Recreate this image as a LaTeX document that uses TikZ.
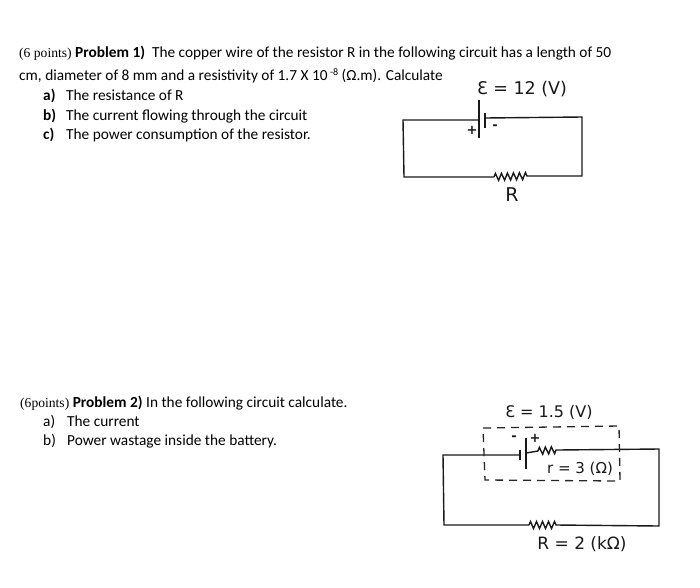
\documentclass[tikz,border=0pt]{standalone}
\usepackage{fontspec}
\setmainfont{Carlito}
\newfontfamily\serifpart{Liberation Serif}
\newfontfamily\handfont{DejaVu Sans}
\usetikzlibrary{decorations.pathmorphing}
\tikzset{
  txt/.style={anchor=base west,inner sep=0pt,font=\fontsize{15.35}{17}\selectfont,text=black},
  hand/.style={inner sep=0pt,font=\handfont\fontsize{16}{18}\selectfont,text=black!90},
  wire/.style={line width=1.4pt,black!90},
  plate/.style={line width=1.5pt,black!90},
  dashbox/.style={line width=1.3pt,black!85,dash pattern=on 8pt off 6pt},
  resist/.style={line width=1.4pt,black!90,decorate,decoration={zigzag,amplitude=3.5pt,segment length=6pt}}
}
\begin{document}
\begin{tikzpicture}[x=1pt,y=-1pt]
\useasboundingbox (0,0) rectangle (700,587);
% --- text problem 1
\node[txt] (p1a) at (19,57) {{\serifpart\fontsize{13.6}{15}\selectfont (6 points)} \textbf{Problem 1)}\ \ The copper wire of the resistor R in the following circuit has a length of 50};
\node[txt] (p1b) at (19,80) {cm, diameter of 8 mm and a resistivity of 1.7 X 10\,\raisebox{4.5pt}{\fontsize{10}{11}\selectfont -8} (Ω.m). Calculate};
\node[txt] (p1c) at (43,100) {\textbf{a)}};
\node[txt] (p1c2) at (66,100) {The resistance of R};
\node[txt] (p1d) at (43,120) {\textbf{b)}};
\node[txt] (p1d2) at (66,120) {The current flowing through the circuit};
\node[txt] (p1e) at (43,139) {\textbf{c)}};
\node[txt] (p1e2) at (66,139) {The power consumption of the resistor.};
% --- text problem 2
\node[txt] (p2a) at (20,407) {{\serifpart\fontsize{13.6}{15}\selectfont (6points)} \textbf{Problem 2)} In the following circuit calculate.};
\node[txt] (p2b) at (43,426) {a)};
\node[txt] (p2b2) at (67,426) {The current};
\node[txt] (p2c) at (43,445) {b)};
\node[txt] (p2c2) at (67,445) {Power wastage inside the battery.};
% --- circuit 1
\coordinate (tl) at (403,120);
\coordinate (bl) at (404,177);
\coordinate (tr) at (582,117);
\coordinate (br) at (582,176);
\coordinate (pa) at (479,120);
\coordinate (pat) at (479,100);
\coordinate (pab) at (479,138);
\coordinate (pb) at (485,118);
\coordinate (pbt) at (485,113);
\coordinate (pbb) at (485,128);
\coordinate (ra) at (494,177);
\coordinate (rb) at (527,176);
\draw[wire] (pa) -- (tl) -- (bl) -- (ra);
\draw[wire] (pb) -- (tr) -- (br) -- (rb);
\draw[plate] (pat) -- (pab);
\draw[plate] (pbt) -- (pbb);
\draw[resist] (ra) -- (rb);
\node[hand,font=\handfont\fontsize{17.5}{20}\selectfont] (e1) at (522,89) {Ɛ = 12 (V)};
\node[hand,font=\handfont\bfseries\fontsize{13}{15}\selectfont] (plus1) at (472,130) {+};
\node[hand,font=\handfont\bfseries\fontsize{13}{15}\selectfont] (minus1) at (495,127) {-};
\node[hand,font=\handfont\fontsize{19}{21}\selectfont] (r1) at (512,195) {R};
% --- circuit 2
\coordinate (tl2) at (443,455);
\coordinate (bl2) at (444,525);
\coordinate (tr2) at (659,449);
\coordinate (br2) at (659,526);
\coordinate (qa) at (520,455);
\coordinate (qat) at (520,450);
\coordinate (qab) at (520,460);
\coordinate (qb) at (526,453);
\coordinate (qbt) at (526,438);
\coordinate (qbb) at (526,469);
\coordinate (s1) at (538,451);
\coordinate (s2) at (557,450);
\coordinate (u1) at (529,525);
\coordinate (u2) at (557,525);
\draw[wire] (qa) -- (tl2) -- (bl2) -- (u1);
\draw[wire] (qb) -- (s1);
\draw[wire] (s2) -- (tr2) -- (br2) -- (u2);
\draw[plate] (qat) -- (qab);
\draw[plate] (qbt) -- (qbb);
\draw[resist] (s1) -- (s2);
\draw[resist] (u1) -- (u2);
\coordinate (d1) at (483,428);
\coordinate (d2) at (619,426);
\coordinate (d3) at (620,481);
\coordinate (d4) at (485,480);
\draw[dashbox] (d1) -- (d2) -- (d3) -- (d4) -- cycle;
\node[hand] (e2) at (549,412) {Ɛ = 1.5 (V)};
\node[hand,font=\handfont\bfseries\fontsize{13}{15}\selectfont] (minus2) at (514,438) {-};
\node[hand,font=\handfont\bfseries\fontsize{13}{15}\selectfont] (plus2) at (535,438) {+};
\node[hand,font=\handfont\fontsize{15}{17}\selectfont,fill=white,inner sep=1pt] (r2) at (580,469) {r = 3 (Ω)};
\node[hand,font=\handfont\fontsize{17}{19}\selectfont] (r3) at (582,544) {R = 2 (kΩ)};
\end{tikzpicture}
\end{document}
